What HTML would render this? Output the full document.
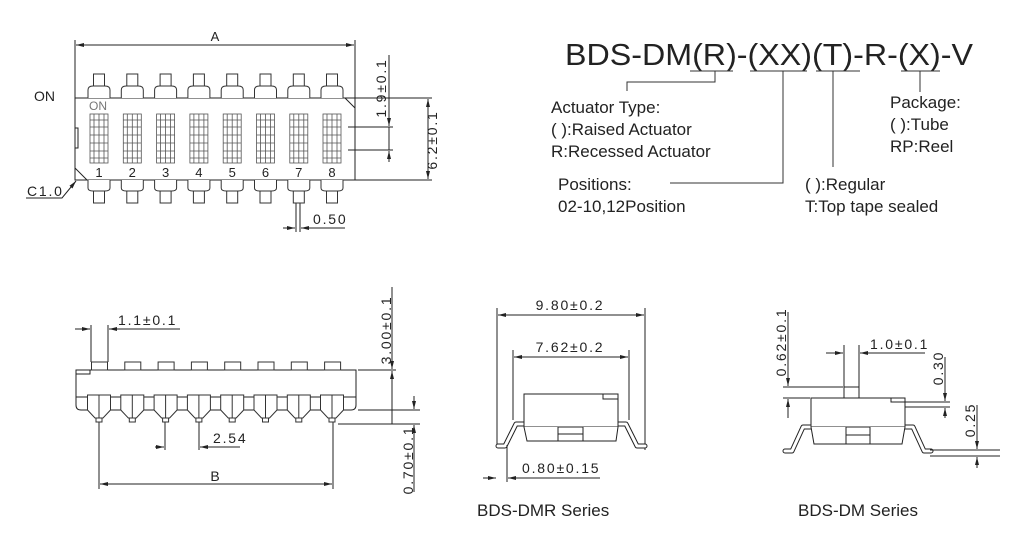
<!DOCTYPE html>
<html><head><meta charset="utf-8"><style>
html,body{margin:0;padding:0;background:#fff;}
svg{display:block;}
text{font-family:"Liberation Sans",Arial,sans-serif;fill:#222;}
.d{font-size:14px;letter-spacing:1.8px;}
</style></head><body>
<svg width="1028" height="546" viewBox="0 0 1028 546" xmlns="http://www.w3.org/2000/svg">
<defs>
<marker id="a" markerWidth="8" markerHeight="4" refX="8" refY="2" orient="auto" markerUnits="userSpaceOnUse"><path d="M0,0 L8,2 L0,4 Z" fill="#222"/></marker>
<marker id="b" markerWidth="8" markerHeight="4" refX="0" refY="2" orient="auto" markerUnits="userSpaceOnUse"><path d="M8,0 L0,2 L8,4 Z" fill="#222"/></marker>
<g id="tp" fill="#fff" stroke="#333" stroke-width="1">
<rect x="-5.5" y="74" width="11" height="12"/>
<path d="M-11,98 L-11,90 Q-11,86 -6,86 L6,86 Q11,86 11,90 L11,98"/>
</g>
<g id="bp" fill="#fff" stroke="#333" stroke-width="1">
<path d="M-11,180 L-11,188 Q-11,191 -6,191 L6,191 Q11,191 11,188 L11,180"/>
<rect x="-5.5" y="191" width="11" height="12"/>
</g>
<g id="win" fill="none" stroke="#555" stroke-width="0.8">
<rect x="-9" y="114" width="18" height="49"/>
<path d="M-5,114V163M0,114V163M5,114V163M-9,120H9M-9,127H9M-9,135H9M-9,143H9M-9,151H9M-9,158H9"/>
</g>
<g id="sp" fill="#fff" stroke="#333" stroke-width="1">
<path d="M-11.5,395 L11.5,395 L11.5,410 L4,418 L-4,418 L-11.5,410 Z"/>
<path d="M0,395V421"/>
<rect x="-3" y="418" width="6" height="4"/>
</g>
<g id="act" fill="#fff" stroke="#333" stroke-width="1"><rect x="-8" y="362" width="16" height="8"/></g>
</defs>
<g stroke="#222" stroke-width="1" fill="none">
<line x1="75" y1="40" x2="75" y2="98"/><line x1="355" y1="40" x2="355" y2="98"/>
<line x1="76" y1="45" x2="354" y2="45" marker-start="url(#b)" marker-end="url(#a)"/>
<rect x="75" y="98" width="280" height="82" fill="#fff"/>
<line x1="345" y1="98" x2="355" y2="108"/><line x1="75" y1="168" x2="87" y2="180"/>
<rect x="75" y="128" width="3" height="20"/>
<path d="M26,198 H62 L76,181" marker-end="url(#a)"/>
<line x1="355" y1="98" x2="432" y2="98"/><line x1="355" y1="180" x2="432" y2="180"/>
<line x1="428" y1="99" x2="428" y2="179" marker-start="url(#b)" marker-end="url(#a)"/>
<line x1="348" y1="127" x2="393" y2="127"/><line x1="348" y1="150" x2="393" y2="150"/>
<line x1="389" y1="55" x2="389" y2="126" marker-end="url(#a)"/>
<line x1="389" y1="162" x2="389" y2="151" marker-end="url(#a)"/>
<line x1="389" y1="127" x2="389" y2="150"/>
<line x1="296" y1="203" x2="296" y2="232"/><line x1="300" y1="203" x2="300" y2="232"/>
<line x1="283" y1="228" x2="295" y2="228" marker-end="url(#a)"/>
<line x1="345" y1="228" x2="301" y2="228" marker-end="url(#a)"/>
</g>
<use href="#tp" x="99"/><use href="#tp" x="132.3"/><use href="#tp" x="165.6"/><use href="#tp" x="198.9"/><use href="#tp" x="232.2"/><use href="#tp" x="265.5"/><use href="#tp" x="298.8"/><use href="#tp" x="332"/>
<use href="#bp" x="99"/><use href="#bp" x="132.3"/><use href="#bp" x="165.6"/><use href="#bp" x="198.9"/><use href="#bp" x="232.2"/><use href="#bp" x="265.5"/><use href="#bp" x="298.8"/><use href="#bp" x="332"/>
<use href="#win" x="99"/><use href="#win" x="132.3"/><use href="#win" x="165.6"/><use href="#win" x="198.9"/><use href="#win" x="232.2"/><use href="#win" x="265.5"/><use href="#win" x="298.8"/><use href="#win" x="332"/>
<g font-size="13" text-anchor="middle">
<text x="99" y="177">1</text><text x="132.3" y="177">2</text><text x="165.6" y="177">3</text><text x="198.9" y="177">4</text><text x="232.2" y="177">5</text><text x="265.5" y="177">6</text><text x="298.8" y="177">7</text><text x="332" y="177">8</text>
</g>
<text x="215" y="41" font-size="13" text-anchor="middle">A</text>
<text x="34" y="101" font-size="14">ON</text>
<text x="89" y="110" font-size="12" style="fill:#777">ON</text>
<text x="27" y="196" class="d">C1.0</text>
<text x="313" y="224" class="d">0.50</text>
<text transform="translate(437,140) rotate(-90)" class="d" text-anchor="middle">6.2±0.1</text>
<text transform="translate(386,88) rotate(-90)" class="d" text-anchor="middle">1.9±0.1</text>

<text x="565" y="65" font-size="31" textLength="408" lengthAdjust="spacingAndGlyphs">BDS-DM(R)-(XX)(T)-R-(X)-V</text>
<g stroke="#333" stroke-width="1" fill="none">
<path d="M690,71H733M750,71H807M816,71H860M901,71H940"/>
<path d="M715,71V82H627V91"/>
<path d="M783,71V183H670"/>
<path d="M833,71V167"/>
<path d="M920,71V92"/>
</g>
<g font-size="17">
<text x="551" y="113">Actuator Type:</text>
<text x="551" y="135">( ):Raised Actuator</text>
<text x="551" y="157">R:Recessed Actuator</text>
<text x="558" y="190">Positions:</text>
<text x="558" y="212">02-10,12Position</text>
<text x="805" y="190">( ):Regular</text>
<text x="805" y="212">T:Top tape sealed</text>
<text x="890" y="108">Package:</text>
<text x="890" y="130">( ):Tube</text>
<text x="890" y="152">RP:Reel</text>
</g>

<g stroke="#222" stroke-width="1" fill="none">
<path d="M76,370 H356 V405 Q356,410 351,410 H81 Q76,410 76,405 Z" fill="#fff"/>
<path d="M76,374 H90 V370"/>
<path d="M76,397 H356"/>
<line x1="91" y1="325" x2="91" y2="362"/><line x1="108" y1="325" x2="108" y2="362"/>
<line x1="75" y1="329" x2="90" y2="329" marker-end="url(#a)"/>
<line x1="118" y1="329" x2="109" y2="329" marker-end="url(#a)"/>
<line x1="110" y1="329" x2="180" y2="329"/>
<line x1="358" y1="370" x2="396" y2="370"/>
<line x1="338" y1="424" x2="420" y2="424"/>
<line x1="358" y1="410" x2="420" y2="410"/>
<line x1="392" y1="287" x2="392" y2="369" marker-end="url(#a)"/>
<line x1="392" y1="424" x2="392" y2="371" marker-end="url(#a)"/>
<line x1="414" y1="396" x2="414" y2="409" marker-end="url(#a)"/>
<line x1="414" y1="492" x2="414" y2="425" marker-end="url(#a)"/>
<line x1="165" y1="421" x2="165" y2="450"/><line x1="199" y1="421" x2="199" y2="450"/>
<line x1="155" y1="447" x2="164" y2="447" marker-end="url(#a)"/>
<line x1="240" y1="447" x2="200" y2="447" marker-end="url(#a)"/>
<line x1="99" y1="421" x2="99" y2="489"/><line x1="333" y1="421" x2="333" y2="489"/>
<line x1="100" y1="484" x2="332" y2="484" marker-start="url(#b)" marker-end="url(#a)"/>
</g>
<use href="#act" x="99.5"/><use href="#act" x="132.8"/><use href="#act" x="166.1"/><use href="#act" x="199.4"/><use href="#act" x="232.7"/><use href="#act" x="266"/><use href="#act" x="299.3"/><use href="#act" x="332.6"/>
<use href="#sp" x="99"/><use href="#sp" x="132.3"/><use href="#sp" x="165.6"/><use href="#sp" x="198.9"/><use href="#sp" x="232.2"/><use href="#sp" x="265.5"/><use href="#sp" x="298.8"/><use href="#sp" x="332"/>
<text x="118" y="325" class="d">1.1±0.1</text>
<text x="213" y="443" class="d">2.54</text>
<text x="216" y="481" class="d" text-anchor="middle">B</text>
<text transform="translate(391,330) rotate(-90)" class="d" text-anchor="middle">3.00±0.1</text>
<text transform="translate(413,460) rotate(-90)" class="d" text-anchor="middle">0.70±0.1</text>

<g stroke="#222" stroke-width="1" fill="none">
<line x1="497" y1="308" x2="497" y2="448"/><line x1="645" y1="308" x2="645" y2="450"/>
<line x1="498" y1="315" x2="644" y2="315" marker-start="url(#b)" marker-end="url(#a)"/>
<line x1="513" y1="350" x2="513" y2="420"/><line x1="629" y1="350" x2="629" y2="420"/>
<line x1="514" y1="357" x2="628" y2="357" marker-start="url(#b)" marker-end="url(#a)"/>
<path d="M524,424 H516 L505,446 H498" stroke-width="5" stroke-linejoin="round" stroke-linecap="round"/>
<path d="M524,424 H516 L505,446 H498" stroke="#fff" stroke-width="3" stroke-linejoin="round" stroke-linecap="round"/>
<path d="M618,424 H626 L637,446 H645" stroke-width="5" stroke-linejoin="round" stroke-linecap="round"/>
<path d="M618,424 H626 L637,446 H645" stroke="#fff" stroke-width="3" stroke-linejoin="round" stroke-linecap="round"/>
<rect x="524" y="394" width="94" height="33" fill="#fff"/>
<path d="M524,427 L527,441 H616 L618,427" fill="#fff"/>
<rect x="558" y="427" width="25" height="14"/><line x1="558" y1="434" x2="583" y2="434"/>
<rect x="603" y="394" width="15" height="5"/>
<line x1="507" y1="445" x2="507" y2="482"/>
<line x1="483" y1="478" x2="496" y2="478" marker-end="url(#a)"/>
<line x1="520" y1="478" x2="508" y2="478" marker-end="url(#a)"/>
<line x1="515" y1="478" x2="600" y2="478"/>
</g>
<text x="570" y="310" class="d" text-anchor="middle">9.80±0.2</text>
<text x="570" y="352" class="d" text-anchor="middle">7.62±0.2</text>
<text x="522" y="473" class="d">0.80±0.15</text>
<text x="477" y="516" font-size="17">BDS-DMR Series</text>

<g stroke="#222" stroke-width="1" fill="none">
<path d="M811,427 H803 L792,451 H785" stroke-width="5" stroke-linejoin="round" stroke-linecap="round"/>
<path d="M811,427 H803 L792,451 H785" stroke="#fff" stroke-width="3" stroke-linejoin="round" stroke-linecap="round"/>
<path d="M905,427 H913 L924,451 H931" stroke-width="5" stroke-linejoin="round" stroke-linecap="round"/>
<path d="M905,427 H913 L924,451 H931" stroke="#fff" stroke-width="3" stroke-linejoin="round" stroke-linecap="round"/>
<rect x="811" y="398" width="94" height="29" fill="#fff"/>
<path d="M811,427 L814,444 H902 L905,427" fill="#fff"/>
<rect x="846" y="427" width="24" height="17"/><line x1="846" y1="435" x2="870" y2="435"/>
<rect x="891" y="398" width="14" height="4"/>
<rect x="844" y="387" width="15" height="11" fill="#fff"/>
<line x1="844" y1="345" x2="844" y2="387"/><line x1="859" y1="345" x2="859" y2="387"/>
<line x1="826" y1="353" x2="843" y2="353" marker-end="url(#a)"/>
<line x1="867" y1="353" x2="860" y2="353" marker-end="url(#a)"/>
<line x1="862" y1="353" x2="925" y2="353"/>
<line x1="783" y1="387" x2="843" y2="387"/><line x1="783" y1="398" x2="810" y2="398"/>
<line x1="788" y1="312" x2="788" y2="386" marker-end="url(#a)"/>
<line x1="788" y1="418" x2="788" y2="399" marker-end="url(#a)"/>
<line x1="905" y1="402" x2="950" y2="402"/><line x1="905" y1="407" x2="950" y2="407"/>
<line x1="945" y1="357" x2="945" y2="401" marker-end="url(#a)"/>
<line x1="945" y1="418" x2="945" y2="408" marker-end="url(#a)"/>
<line x1="930" y1="450" x2="1000" y2="450"/><line x1="930" y1="456" x2="1000" y2="456"/>
<line x1="977" y1="405" x2="977" y2="449" marker-end="url(#a)"/>
<line x1="977" y1="468" x2="977" y2="457" marker-end="url(#a)"/>
</g>
<text x="870" y="349" class="d">1.0±0.1</text>
<text transform="translate(786,342) rotate(-90)" class="d" text-anchor="middle">0.62±0.1</text>
<text transform="translate(943,368) rotate(-90)" class="d" text-anchor="middle">0.30</text>
<text transform="translate(975,420) rotate(-90)" class="d" text-anchor="middle">0.25</text>
<text x="798" y="516" font-size="17">BDS-DM Series</text>
</svg>
</body></html>
